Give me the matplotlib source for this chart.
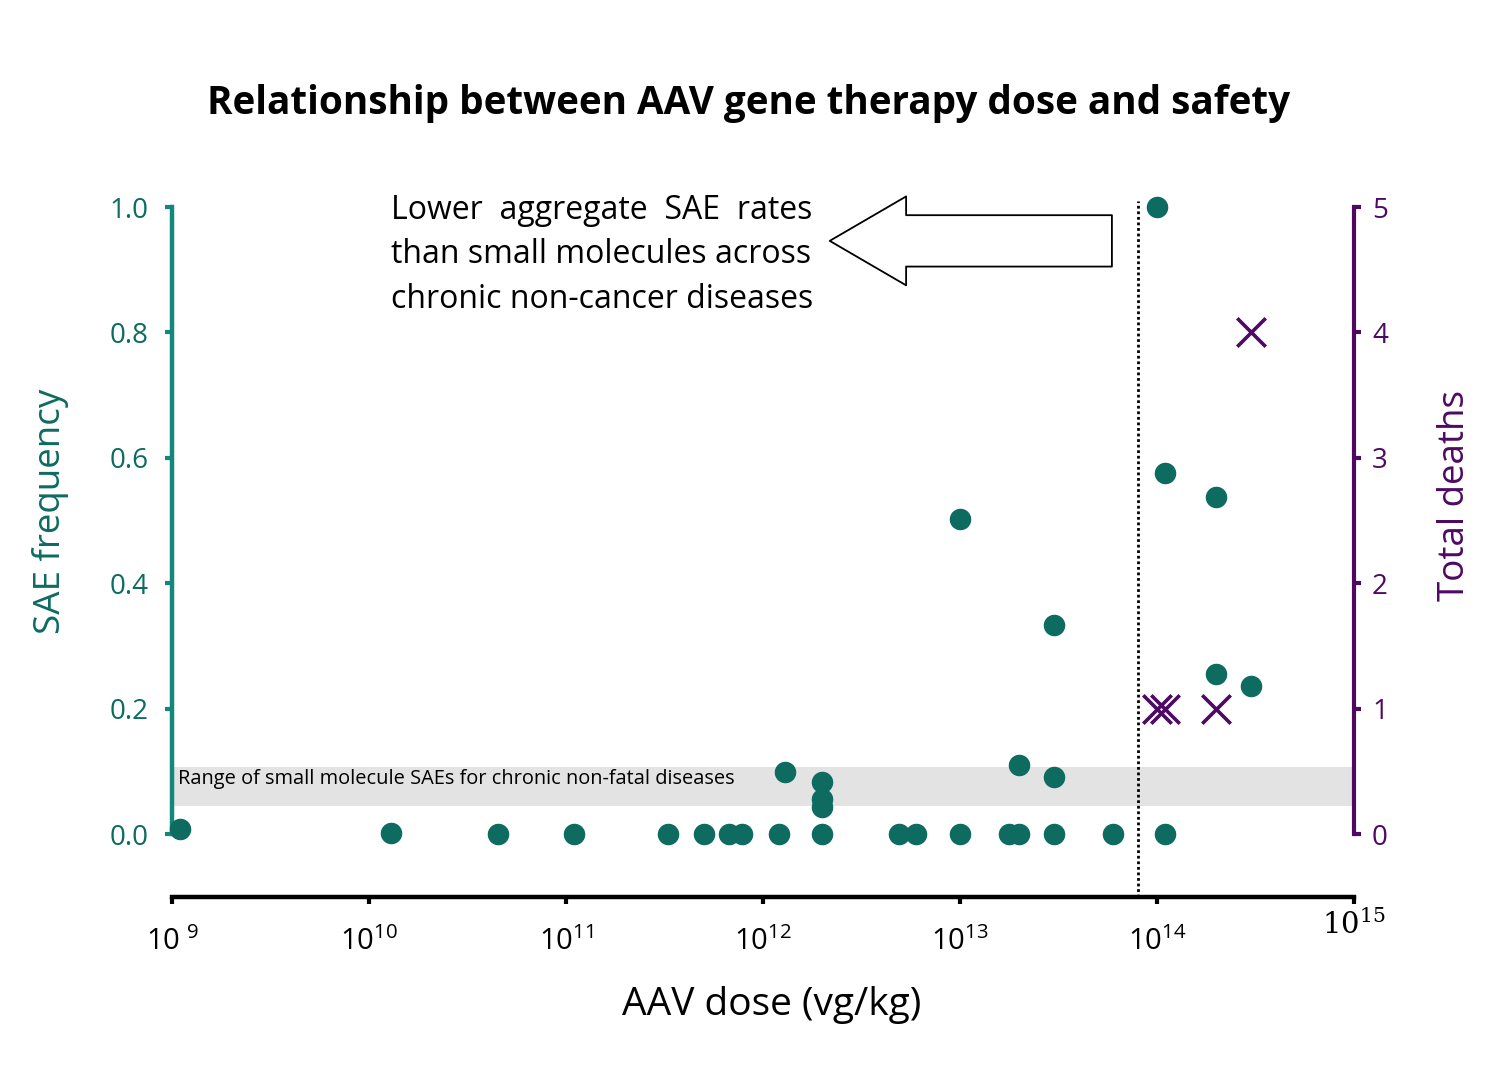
import matplotlib
matplotlib.use("Agg")
import matplotlib.pyplot as plt

plt.rcParams['font.family'] = ['Open Sans', 'DejaVu Sans']
plt.rcParams['mathtext.default'] = 'regular'

# SAE frequency per trial (left axis)
sae_dose = [1.1e9, 1.3e10, 4.5e10, 1.1e11, 3.3e11, 5e11, 6.7e11, 7.8e11, 1.2e12, 2e12,
            4.9e12, 6e12, 1e13, 1.78e13, 2e13, 3e13, 6e13, 1.1e14,
            1.3e12, 2e12, 2e12, 2e12, 1e13, 3e13, 2e13, 3e13,
            1e14, 1.1e14, 2e14, 2e14, 3e14]
sae_freq = [0.008, 0.002, 0.0, 0.001, 0.0, 0.0, 0.0, 0.0, 0.0, 0.0,
            0.0, 0.0, 0.0, 0.0, 0.0, 0.0, 0.0, 0.0,
            0.100, 0.084, 0.056, 0.043, 0.503, 0.334, 0.111, 0.092,
            1.0, 0.576, 0.537, 0.255, 0.237]

# total deaths (right axis)
death_dose = [1e14, 1.1e14, 2e14, 3e14]
deaths = [1, 1, 1, 4]

band_low, band_high = 0.045, 0.107
threshold_dose = 8e13

teal = '#0e6b5f'
teal_axis = '#13877a'
purple = '#4e0a63'

fig = plt.figure(figsize=(15, 10.71), dpi=100)
ax = fig.add_axes([0.1147, 0.1625, 0.788, 0.6735])
ax.set_xscale('log')
ax.set_xlim(1e9, 1e15)
ax.set_ylim(-0.1, 1.05)

ax.axhspan(band_low, band_high, color='#e3e3e3', zorder=0, lw=0)
ax.text(1.07e9, (band_low + band_high) / 2 + 0.012, 'Range of small molecule SAEs for chronic non-fatal diseases',
        fontsize=14.4, va='center', ha='left', color='black')

ax.vlines(threshold_dose, -0.1, 1.01, colors='black', linestyles=(0, (1, 1)), lw=2, zorder=1)

ax.scatter(sae_dose, sae_freq, s=210, color=teal, zorder=3, clip_on=False)

ax2 = ax.twinx()
ax2.set_ylim(-0.5, 5.25)
ax2.scatter(death_dose, deaths, marker='x', s=420, color=purple, linewidths=2.6, zorder=4)

# spines
for a in (ax, ax2):
    a.spines['top'].set_visible(False)
ax.spines['right'].set_visible(False)
ax2.spines['left'].set_visible(False)
ax2.spines['bottom'].set_visible(False)
ax.spines['left'].set_color(teal_axis)
ax.spines['left'].set_linewidth(3.2)
ax.spines['left'].set_bounds(0, 1)
ax.spines['bottom'].set_linewidth(3.2)
ax2.spines['right'].set_color(purple)
ax2.spines['right'].set_linewidth(3.0)
ax2.spines['right'].set_bounds(0, 5)

ax.set_yticks([0, 0.2, 0.4, 0.6, 0.8, 1.0])
ax.set_yticklabels(['0.0', '0.2', '0.4', '0.6', '0.8', '1.0'])
ax.tick_params(axis='y', colors=teal_axis, labelcolor=teal, labelsize=20, width=3, length=5, pad=12)
ax2.set_yticks([0, 1, 2, 3, 4, 5])
ax2.tick_params(axis='y', colors=purple, labelcolor=purple, labelsize=20, width=3, length=5, pad=8)

ax.set_xticks([1e9, 1e10, 1e11, 1e12, 1e13, 1e14, 1e15])
ax.minorticks_off()
ax.set_xticklabels([r'$10^{\ 9}$', r'$10^{10}$', r'$10^{11}$', r'$10^{12}$',
                    r'$10^{13}$', r'$10^{14}$', r'$10^{15}$'])
ax.tick_params(axis='x', labelsize=21, width=3, length=5, pad=17)
xl = ax.get_xticklabels()
xl[-1].set_fontfamily('DejaVu Serif')
xl[-1].set_y(0.025)

ax.set_xlabel('AAV dose (vg/kg)', fontsize=28)
ax.xaxis.set_label_coords(0.507, -0.124)
ax.set_ylabel('SAE frequency', fontsize=26.5, color=teal)
ax.yaxis.set_label_coords(-0.087, 0.534)
ax2.set_ylabel('Total deaths', fontsize=26.5, color=purple)
ax2.yaxis.set_label_coords(1.070, 0.557)

fig.suptitle('Relationship between AAV gene therapy dose and safety', fontsize=27.8,
             fontweight='bold', x=0.4993, y=0.922)

# block arrow pointing left
ax.annotate('', xy=(2.18e12, 0.946), xytext=(5.9e13, 0.946),
            arrowprops=dict(arrowstyle='simple,head_length=55,head_width=64,tail_width=37',
                            mutation_scale=1, fc='white', ec='black', lw=1.3,
                            shrinkA=0, shrinkB=0))

lines = ['Lower  aggregate  SAE  rates', 'than small molecules across', 'chronic non-cancer diseases']
line_y = [0.995, 0.925, 0.853]
for line, y in zip(lines, line_y):
    ax.text(1.3e10, y, line, fontsize=23, ha='left', va='center')

fig.savefig('out.png', dpi=100)
